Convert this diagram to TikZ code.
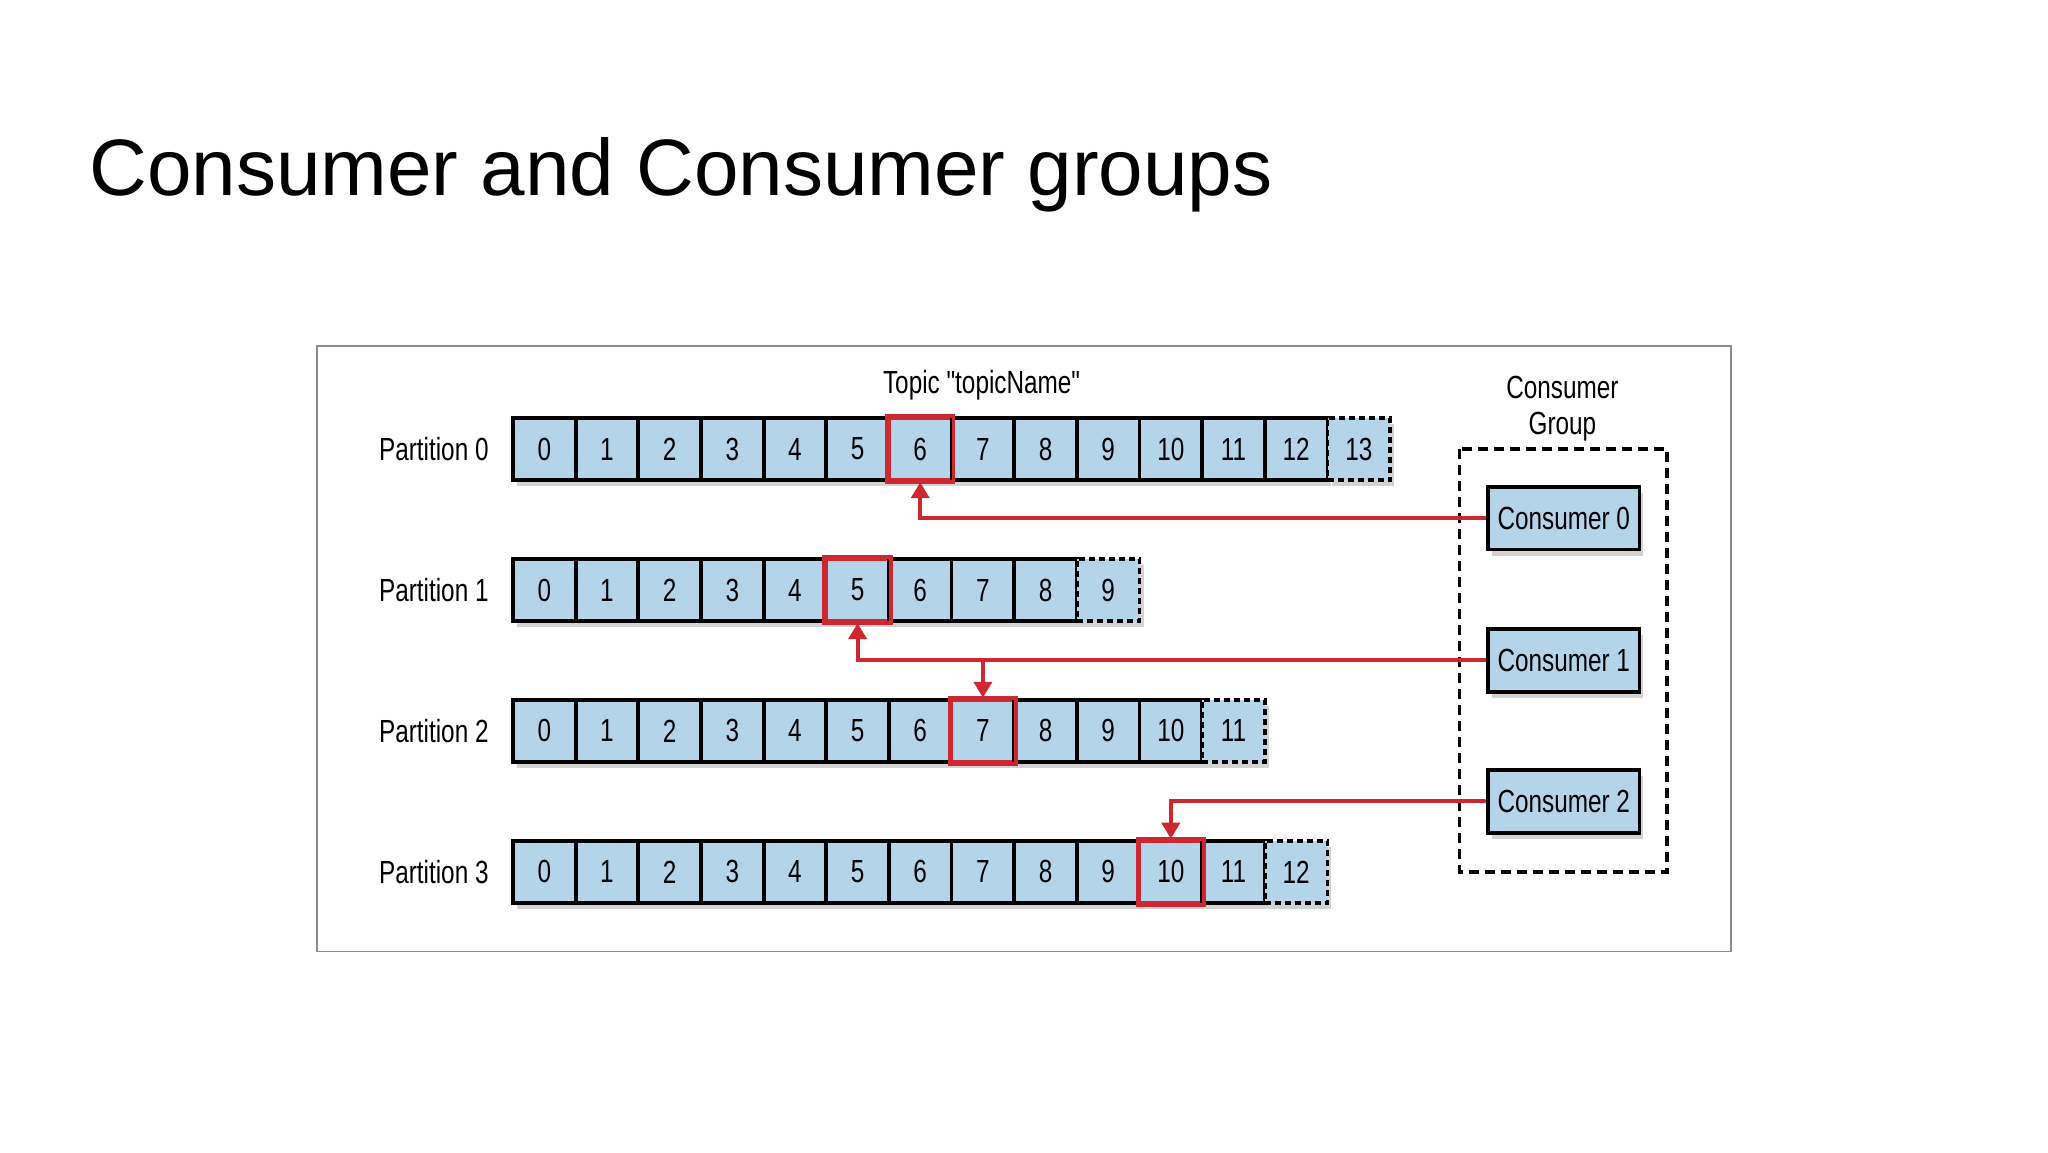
\documentclass[tikz,border=0pt]{standalone}
\usepackage{fontspec}
\setmainfont{Liberation Sans}
\newfontfamily\narrowfont{Liberation Sans}[FakeStretch=0.76]
\usetikzlibrary{shadows}
\definecolor{cellblue}{RGB}{180,212,234}
\definecolor{linkred}{RGB}{205,40,50}
\tikzset{every picture/.style={line width=0.75pt}}
\tikzset{
  cell/.style={draw=black, fill=cellblue, line width=1.9pt, minimum width=31.3pt, minimum height=31.3pt,
    inner sep=0pt, font=\narrowfont\fontsize{16}{16}\selectfont,
    drop shadow={shadow xshift=2pt, shadow yshift=-3pt, opacity=0.35}},
  newcell/.style={cell, dashed, dash pattern=on 3pt off 2pt},
  hit/.style={draw=linkred},
  plabel/.style={anchor=east, font=\narrowfont\fontsize{16}{16}\selectfont},
  link/.style={draw=linkred, line width=2pt, -{Triangle[length=8pt,width=9pt]}},
}
\usetikzlibrary{arrows.meta}
\begin{document}
\begin{tikzpicture}[x=0.6525pt,y=0.6525pt,yscale=-1,xscale=1]
	\useasboundingbox (0,0) rectangle (1569,883);
	
	% title
	\node (title) [anchor=base west, inner sep=0pt, font=\fontsize{40}{40}\selectfont] at (68,150) {Consumer and Consumer groups};
	% frame
	\draw [draw=black!45, line width=0.9pt] (243,265) rectangle (1326,729);
	
	\node (topic) [font=\narrowfont\fontsize{16}{16}\selectfont] at (752,295) {Topic "topicName"};
	
	% partitions: index / y / number of cells / highlighted cell
	\foreach \p/\y/\n/\h in {0/344/13/6, 1/452/9/5, 2/560/11/7, 3/668/12/10}{
		\node (plab\p) [plabel] at (380,\y) {Partition \p};
		\foreach \i in {0,...,\n}{
			\ifnum\i=\n
				\node (c\p-\i) [newcell] at (417+48*\i,\y) {\i};
			\else\ifnum\i=\h
				\node (c\p-\i) [cell, hit] at (417+48*\i,\y) {\i};
			\else
				\node (c\p-\i) [cell] at (417+48*\i,\y) {\i};
			\fi\fi
		}
	}
	% redraw highlighted cells on top
	\foreach \p/\h in {0/6, 1/5, 2/7, 3/10}{
		\draw [linkred, line width=1.9pt] (c\p-\h.south west) rectangle (c\p-\h.north east);
	}
	
	% consumer group
	\node (grouplab) [align=center, font=\narrowfont\fontsize{16}{18}\selectfont] at (1197,313) {Consumer\\Group};
	\draw [dashed, dash pattern=on 5pt off 3pt, line width=1.8pt] (1118,344) rectangle (1277,668);
	\node (cons0) [cell, minimum width=75.7pt] at (1198,397) {Consumer 0};
	\node (cons1) [cell, minimum width=75.7pt] at (1198,506) {Consumer 1};
	\node (cons2) [cell, minimum width=75.7pt] at (1198,614) {Consumer 2};
	
	% assignments
	\draw [link] (cons0.west) -| (c0-6.south);
	\draw [link] (cons1.west) -| (c1-5.south);
	\draw [link] (cons1.west -| c2-7.north) -- (c2-7.north);
	\draw [link] (cons2.west) -| (c3-10.north);
	
\end{tikzpicture}
\end{document}
